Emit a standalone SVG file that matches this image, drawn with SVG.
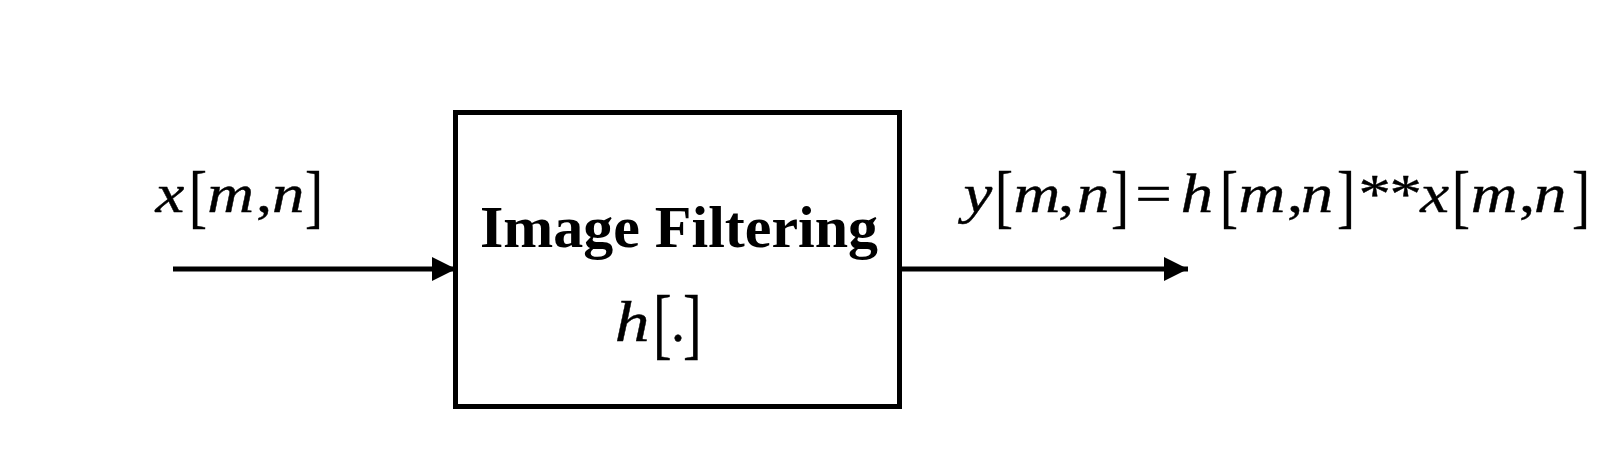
<svg xmlns="http://www.w3.org/2000/svg" width="1600" height="475" viewBox="0 0 1600 475">
  <defs>
    <style>
      .m { font-family: "Liberation Serif", "Times New Roman", serif; font-size: 54px; fill: #000; stroke: #000; stroke-width: 0.4px; }
      .i { font-style: italic; }
      .br { font-family: "Liberation Serif", "Times New Roman", serif; font-size: 54px; fill: #000; stroke: #000; stroke-width: 0.3px; }
      .title { font-family: "Liberation Serif", "Times New Roman", serif; font-size: 60px; font-weight: bold; fill: #000; }
      .edge { stroke: #000; stroke-width: 5; fill: none; }
    </style>
    <marker id="arrow" markerUnits="userSpaceOnUse" markerWidth="26" markerHeight="26" refX="24" refY="12" orient="auto">
      <path d="M0,0 L24,12 L0,24 z" fill="#000"/>
    </marker>
  </defs>
  <rect x="0" y="0" width="1600" height="475" fill="#fff"/>

  <g id="connectors">
    <line class="edge" x1="173" y1="269" x2="456" y2="269" marker-end="url(#arrow)"/>
    <line class="edge" x1="900" y1="269" x2="1188" y2="269" marker-end="url(#arrow)"/>
  </g>

  <g id="input-label">
    <text class="m" y="212" transform="scale(1.2,1)"><tspan class="i" x="129.5">x</tspan><tspan class="i" x="172.8">m</tspan><tspan x="213.3">,</tspan><tspan class="i" x="226.7">n</tspan></text>
    <text class="br" transform="translate(189,220) scale(1,1.3)">[</text>
    <text class="br" transform="translate(305,220) scale(1,1.3)">]</text>
  </g>

  <g id="filter-box">
    <rect x="455.5" y="112.5" width="444" height="294" fill="#fff" stroke="#000" stroke-width="5"/>
    <text class="title" x="679" y="247" text-anchor="middle">Image Filtering</text>
    <text class="m i" x="512.3" y="341" style="font-size:58px" transform="scale(1.2,1)">h</text>
    <text class="br" style="font-size:56px" transform="translate(653,350) scale(1,1.38)">[</text>
    <text class="m" x="671" y="341" style="font-size:56px">.</text>
    <text class="br" style="font-size:56px" transform="translate(683,350) scale(1,1.38)">]</text>
  </g>

  <g id="output-label">
    <text class="m" y="212" transform="scale(1.2,1)"><tspan class="i" x="803">y</tspan><tspan class="i" x="844.5">m</tspan><tspan x="881.7">,</tspan><tspan class="i" x="897.5">n</tspan><tspan x="946">=</tspan><tspan class="i" x="984">h</tspan><tspan class="i" x="1032">m</tspan><tspan x="1072.5">,</tspan><tspan class="i" x="1084">n</tspan><tspan x="1132">*</tspan><tspan x="1158">*</tspan><tspan class="i" x="1183.5">x</tspan><tspan class="i" x="1225.7">m</tspan><tspan x="1265.8">,</tspan><tspan class="i" x="1278.3">n</tspan></text>
    <text class="br" transform="translate(995,220) scale(1,1.3)">[</text>
    <text class="br" transform="translate(1111,220) scale(1,1.3)">]</text>
    <text class="br" transform="translate(1220,220) scale(1,1.3)">[</text>
    <text class="br" transform="translate(1337,220) scale(1,1.3)">]</text>
    <text class="br" transform="translate(1452,220) scale(1,1.3)">[</text>
    <text class="br" transform="translate(1572,220) scale(1,1.3)">]</text>
  </g>
</svg>
